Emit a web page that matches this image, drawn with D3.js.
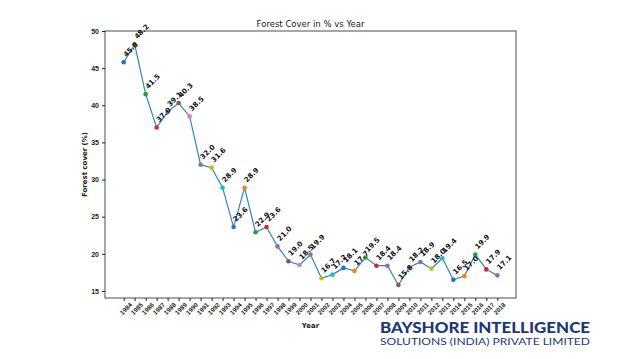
<!DOCTYPE html>
<html>
<head>
<meta charset="utf-8">
<script src="https://cdn.jsdelivr.net/npm/d3@7"></script>
<style>
  body { margin: 0; background: #fff; }
  svg { font-family: "DejaVu Sans", sans-serif; }
</style>
</head>
<body>
<div class="chart"></div>
<script>
// data
var years = [1984,1985,1986,1987,1988,1989,1990,1991,1992,1993,1994,1995,1996,1997,1998,1999,2000,2001,2002,2003,2004,2005,2006,2007,2008,2009,2010,2011,2012,2013,2014,2015,2016,2017,2018];
var cover = [45.8,48.2,41.5,37.0,39.1,40.3,38.5,32.0,31.6,28.9,23.6,28.9,22.9,23.6,21.0,19.0,18.5,19.9,16.7,17.2,18.1,17.7,19.5,18.4,18.4,15.8,18.2,18.9,18.0,19.4,16.5,17.0,19.9,17.9,17.1];
var yTicks = [15,20,25,30,35,40,45,50];
var palette = ['#1f77b4','#ff7f0e','#2ca02c','#d62728','#9467bd','#8c564b','#e377c2','#7f7f7f','#bcbd22','#17becf'];

const width = 638
const height = 359
const mLeft = 105, mRight = 516, mTop = 31, mBottom = 298

let svg = d3.select('.chart')
  .append('svg')
  .attr('width', width)
  .attr('height', height)

let x = d3.scaleLinear()
  .domain([1984 - 1.7, 2018 + 1.7])
  .range([mLeft, mRight])

let y = d3.scaleLinear()
  .domain([14.05, 50])
  .range([mBottom, mTop])

// frame
svg.append('rect')
  .attr('x', mLeft).attr('y', mTop)
  .attr('width', mRight - mLeft).attr('height', mBottom - mTop)
  .attr('fill', 'none').attr('stroke', '#222').attr('stroke-width', 0.8)

// y axis
let gy = svg.append('g')
  .attr('transform', 'translate(' + mLeft + ',0)')
  .call(d3.axisLeft(y).tickValues(yTicks).tickSize(3).tickPadding(3))
gy.select('.domain').remove()
gy.selectAll('text')
  .attr('font-size', 7).attr('font-weight', 'bold').attr('fill', '#222')
gy.selectAll('line').attr('stroke', '#222')

// x axis
let gx = svg.append('g')
  .attr('transform', 'translate(0,' + mBottom + ')')
  .call(d3.axisBottom(x).tickValues(years).tickSize(3).tickFormat(d3.format('d')))
gx.select('.domain').remove()
gx.selectAll('line').attr('stroke', '#222')
gx.selectAll('text')
  .attr('font-size', 6.3).attr('font-weight', 'bold').attr('fill', '#222')
  .attr('text-anchor', 'end')
  .attr('dy', 0)
  .attr('transform', 'translate(4,3) rotate(-45)')

// title and axis labels
svg.append('text')
  .attr('x', (mLeft + mRight) / 2).attr('y', 27)
  .attr('text-anchor', 'middle')
  .attr('font-size', 8.5).attr('fill', '#222')
  .text('Forest Cover in % vs Year')

svg.append('text')
  .attr('x', (mLeft + mRight) / 2).attr('y', 328)
  .attr('text-anchor', 'middle')
  .attr('font-size', 7).attr('font-weight', 'bold').attr('fill', '#222')
  .text('Year')

svg.append('text')
  .attr('transform', 'translate(87,' + (mTop + mBottom) / 2 + ') rotate(-90)')
  .attr('text-anchor', 'middle')
  .attr('font-size', 7).attr('font-weight', 'bold').attr('fill', '#222')
  .text('Forest cover (%)')

// line
let line = d3.line()
  .x((d, i) => x(years[i]))
  .y(d => y(d))

svg.append('path')
  .datum(cover)
  .attr('d', line)
  .attr('fill', 'none')
  .attr('stroke', '#2b88c0')
  .attr('stroke-width', 1.2)

// points
svg.selectAll('circle')
  .data(cover)
  .enter()
  .append('circle')
  .attr('cx', (d, i) => x(years[i]))
  .attr('cy', d => y(d))
  .attr('r', 2.3)
  .attr('fill', (d, i) => palette[i % 10])

// value labels
svg.selectAll('.val')
  .data(cover)
  .enter()
  .append('text')
  .attr('class', 'val')
  .attr('transform', (d, i) => 'translate(' + (x(years[i]) + 2.5) + ',' + (y(d) - 5) + ') rotate(-45)')
  .attr('font-size', 7).attr('font-weight', 'bold').attr('fill', '#111')
  .text(d => d.toFixed(1))

// logo
svg.append('text')
  .attr('x', 380).attr('y', 333)
  .attr('font-family', 'Lato, "Open Sans", sans-serif')
  .attr('font-size', 14.5).attr('font-weight', 900).attr('fill', '#1c3877')
  .attr('textLength', 210).attr('lengthAdjust', 'spacingAndGlyphs')
  .text('BAYSHORE INTELLIGENCE')

svg.append('text')
  .attr('x', 380).attr('y', 345)
  .attr('font-family', 'Lato, "Open Sans", sans-serif')
  .attr('font-size', 9.5).attr('fill', '#1c3877')
  .attr('textLength', 210).attr('lengthAdjust', 'spacingAndGlyphs')
  .text('SOLUTIONS (INDIA) PRIVATE LIMITED')
</script>
</body>
</html>
